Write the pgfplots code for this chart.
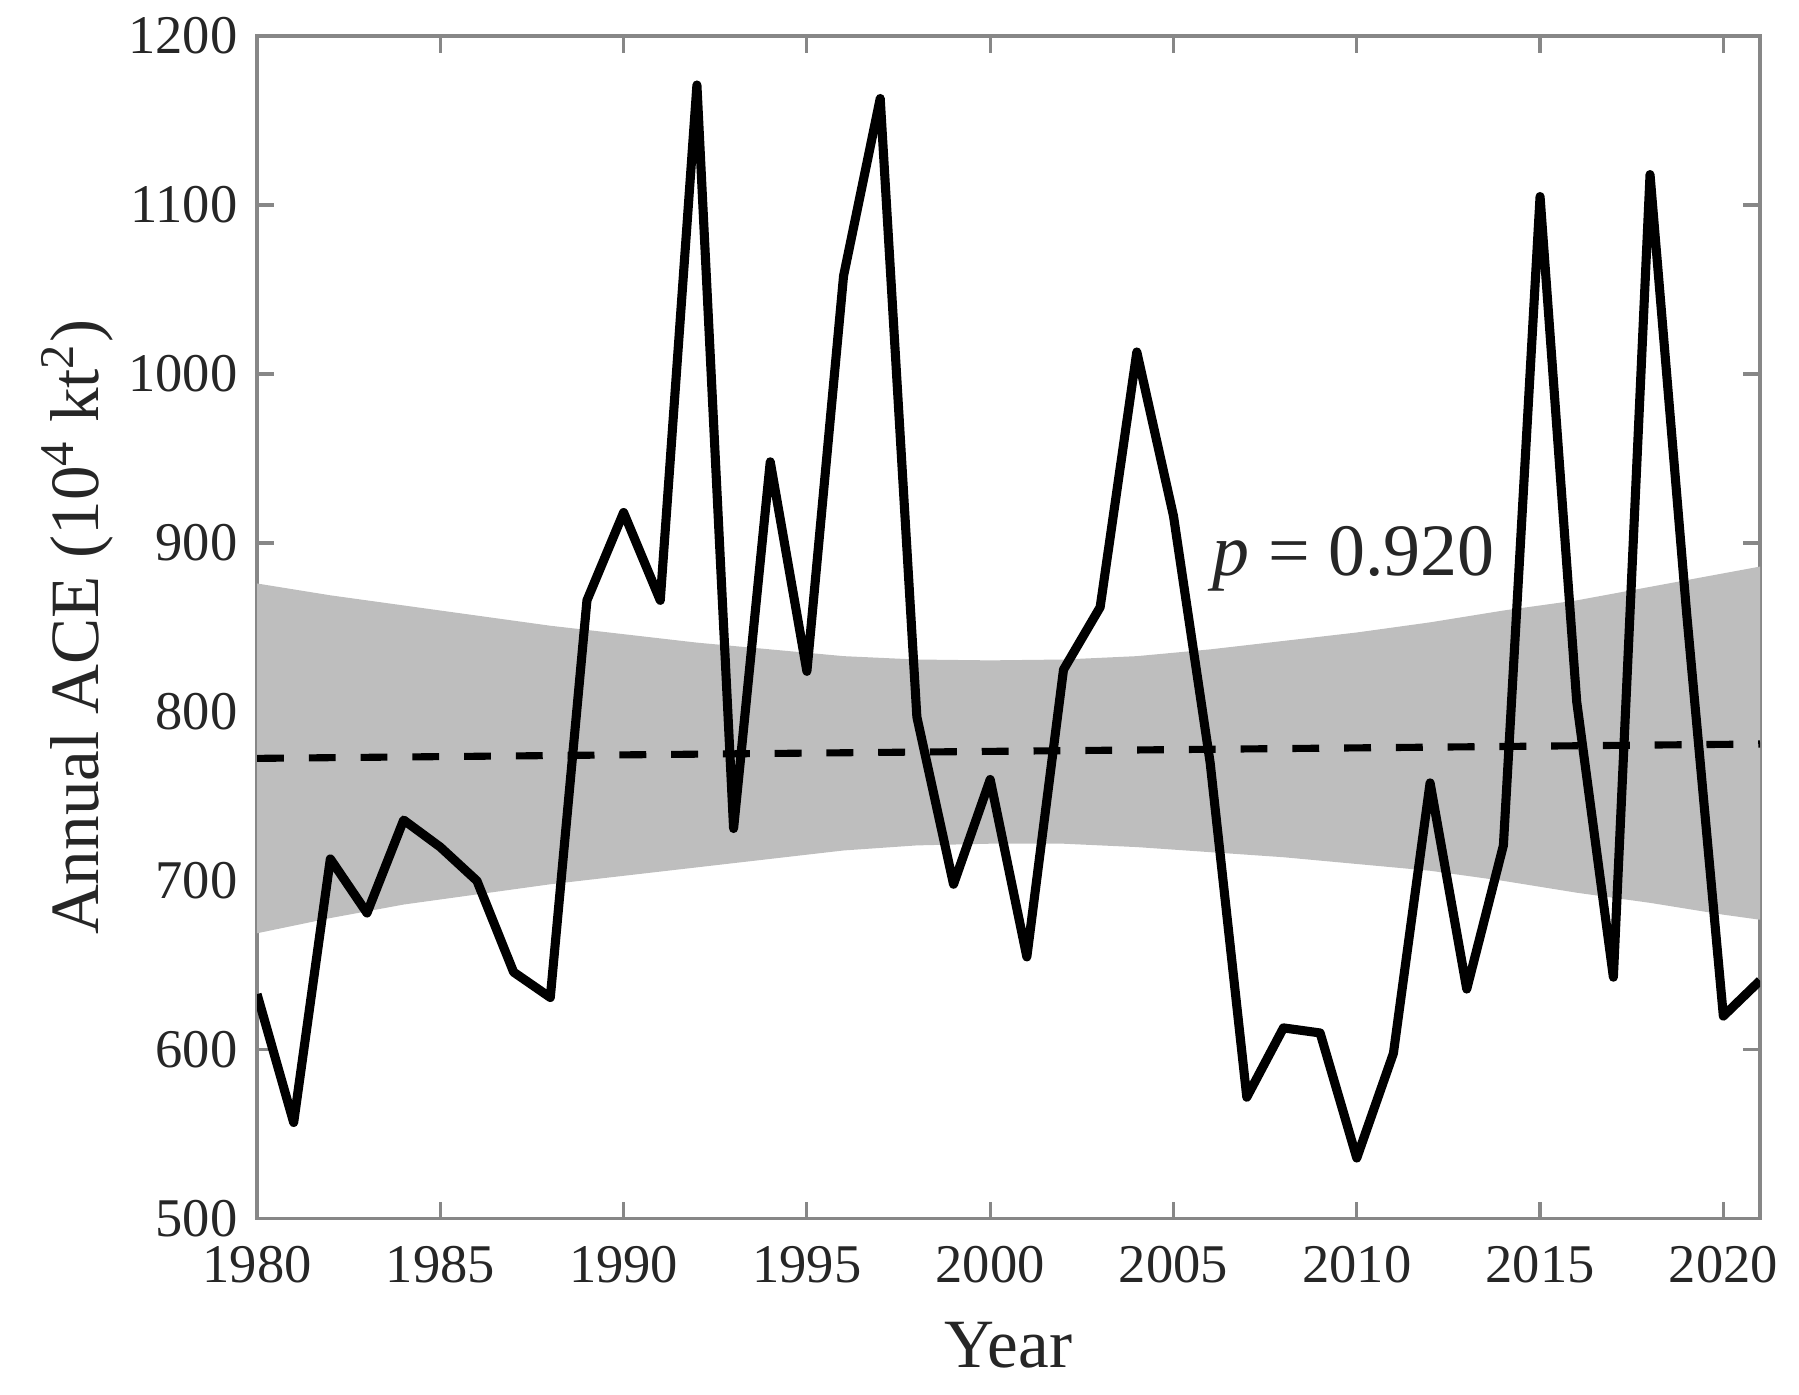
\documentclass[border=0pt]{standalone}
\usepackage{pgfplots}
\pgfplotsset{compat=1.18}
\usepackage{fontspec}
\setmainfont{Liberation Serif}
\definecolor{bandgray}{RGB}{190,190,190}
\definecolor{axgray}{RGB}{135,135,135}
\begin{document}
\begin{tikzpicture}
\begin{axis}[
  at={(0,0)}, anchor=south west,
  scale only axis,
  width=13.367cm, height=10.52cm,
  xmin=1980, xmax=2021, ymin=500, ymax=1200,
  xtick={1980,1985,...,2020},
  ytick={500,600,...,1200},
  /pgf/number format/1000 sep={},
  /pgf/number format/assume math mode=true,
  tick align=inside,
  major tick length=0.15cm,
  axis line style={axgray, line width=0.8pt},
  every tick/.style={axgray, line width=0.8pt},
  tick label style={font=\fontsize{13.8}{16}\selectfont, black!85},
  xticklabel style={yshift=-0.12cm},
  yticklabel style={xshift=-0.05cm},
  xlabel={Year},
  ylabel={Annual ACE (10\textsuperscript{4} kt\textsuperscript{2})},
  label style={font=\fontsize{17.5}{20}\selectfont, black!85},
  xlabel style={at={(axis description cs:0.5,0)}, anchor=base, yshift=-1.325cm},
  ylabel style={at={(axis description cs:0,0.5)}, anchor=base, yshift=1.414cm},
]
% confidence band (upper, then lower reversed)
\addplot[fill=bandgray, draw=none] coordinates {
 (1980,876) (1982,869) (1984,863) (1986,857) (1988,851) (1990,846)
 (1992,841) (1994,837) (1996,833) (1998,831) (2000,830.5) (2002,831)
 (2004,833) (2006,837) (2008,842) (2010,847) (2012,853) (2014,860)
 (2016,866) (2018,874) (2020,882) (2021,886)
 (2021,677) (2020,680) (2018,687) (2016,693) (2014,700) (2012,706)
 (2010,710) (2008,714) (2006,717) (2004,720) (2002,722) (2000,722)
 (1998,721) (1996,718) (1994,713) (1992,708) (1990,703) (1988,698)
 (1986,692) (1984,686) (1982,678) (1980,669)
};
% trend line
\addplot[black, line width=1.8pt, dash pattern=on 6.8pt off 6.3pt] coordinates {
 (1980,772.5) (2021,781)
};
% annual ACE
\addplot[black, line width=2.3pt, line join=round] coordinates {
 (1980,633) (1981,557) (1982,713) (1983,681) (1984,736) (1985,720)
 (1986,700) (1987,646) (1988,631) (1989,866) (1990,918) (1991,866)
 (1992,1171) (1993,731) (1994,948) (1995,824) (1996,1058) (1997,1163)
 (1998,797) (1999,698) (2000,760) (2001,655) (2002,825) (2003,862)
 (2004,1013) (2005,916) (2006,770) (2007,572) (2008,613) (2009,610)
 (2010,536) (2011,598) (2012,758) (2013,636) (2014,721) (2015,1105)
 (2016,806) (2017,643) (2018,1118) (2019,858) (2020,620) (2021,641)
};
\node[anchor=base west, inner sep=0pt, font=\fontsize{18.7}{22}\selectfont, black!85]
  at (axis cs:2006.05,881) {\textit{p} = 0.920};
\end{axis}
\pgfresetboundingbox
\path[use as bounding box] (-2.286cm,-1.565cm) rectangle (13.714cm,10.84cm);
\end{tikzpicture}
\end{document}
